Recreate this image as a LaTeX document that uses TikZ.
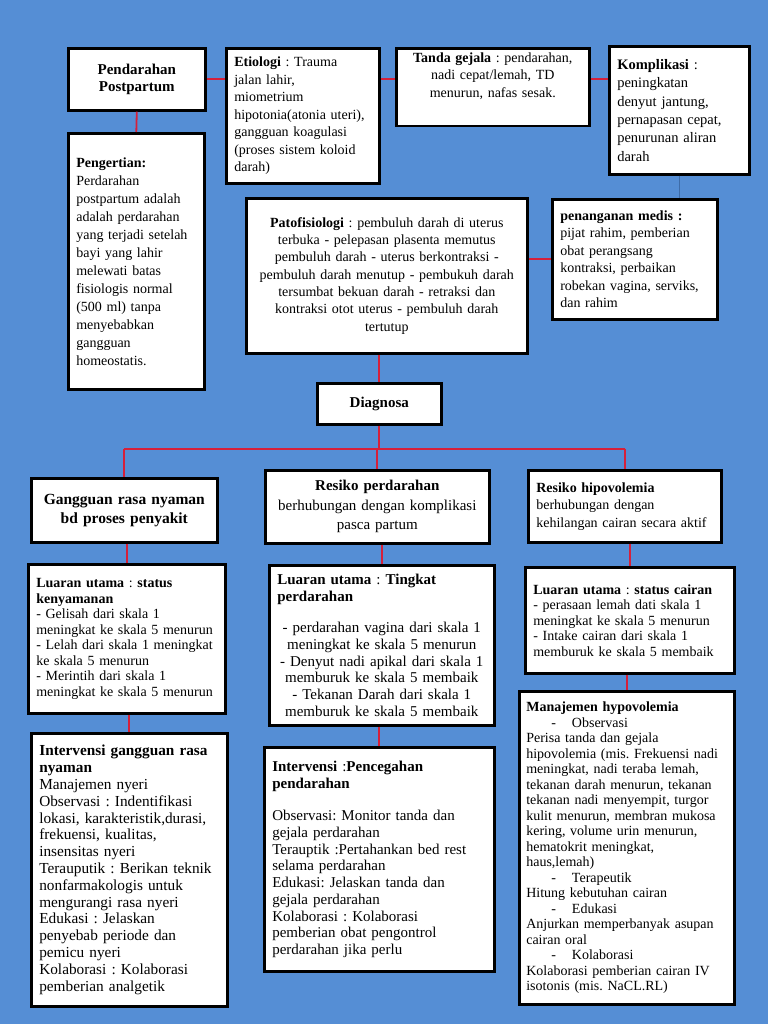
\documentclass[tikz,border=0pt]{standalone}
\usepackage{fontspec}
\setmainfont{Liberation Serif}
\frenchspacing
\definecolor{pagebg}{RGB}{85,142,213}
\definecolor{linkred}{RGB}{214,32,58}
\definecolor{linkblue}{RGB}{62,108,168}

\begin{document}
\begin{tikzpicture}[x=1pt, y=-1pt,
  box/.style={draw, line width=2.6pt, fill=white, anchor=north west,
    inner xsep=8pt, inner ysep=4pt, font=\fontsize{14}{17.5}\selectfont},
  link/.style={draw=linkred, line width=1.8pt}]
% page
\fill[pagebg] (0,0) rectangle (768,1024);
\useasboundingbox (0,0) rectangle (768,1024);

% top row
\node[box, text width=121pt, minimum height=62pt, align=center,
  font=\fontsize{15}{17}\selectfont\bfseries] (pp) at (67,47)
  {Pendarahan\\ Postpartum};
\node[box, text width=137pt, minimum height=135pt, align=left] (etio) at (225,47)
  {\textbf{Etiologi} : Trauma\\ jalan lahir,\\ miometrium\\
   hipotonia(atonia uteri),\\ gangguan koagulasi\\ (proses sistem koloid\\ darah)};
\node[box, text width=177pt, text depth=60pt, align=center] (tanda) at (395,47)
  {\textbf{Tanda gejala} : pendarahan,\\ nadi cepat/lemah, TD\\ menurun, nafas sesak.};
\node[box, text width=124pt, minimum height=128pt, align=left,
  font=\fontsize{14.5}{18.3}\selectfont] (kompl) at (608,45)
  {\textbf{Komplikasi} :\\ peningkatan\\ denyut jantung,\\ pernapasan cepat,\\
   penurunan aliran\\ darah};

\node[box, text width=120pt, minimum height=256pt, align=left,
  font=\fontsize{14}{18}\selectfont] (peng) at (67,132)
  {\textbf{Pengertian:}\\ Perdarahan\\ postpartum adalah\\ adalah perdarahan\\
   yang terjadi setelah\\ bayi yang lahir\\ melewati batas\\ fisiologis normal\\
   (500 ml) tanpa\\ menyebabkan\\ gangguan\\ homeostatis.};
\node[box, text width=265pt, minimum height=155pt, align=center,
  font=\fontsize{14}{17.3}\selectfont] (pato) at (245,197)
  {\textbf{Patofisiologi} : pembuluh darah di uterus\\
   terbuka - pelepasan plasenta memutus\\
   pembuluh darah - uterus berkontraksi -\\
   pembuluh darah menutup - pembukuh darah\\
   tersumbat bekuan darah - retraksi dan\\
   kontraksi otot uterus - pembuluh darah\\ tertutup};
\node[box, text width=149pt, minimum height=120pt, align=left] (pena) at (551,198)
  {\textbf{penanganan medis :}\\ pijat rahim, pemberian\\ obat perangsang\\
   kontraksi, perbaikan\\ robekan vagina, serviks,\\ dan rahim};
\node[box, text width=108pt, minimum height=41pt, align=center,
  font=\fontsize{15}{17}\selectfont\bfseries] (diag) at (316,382) {Diagnosa};

% diagnosa row
\node[box, text width=170pt, minimum height=64pt, align=center,
  font=\fontsize{15.5}{19}\selectfont\bfseries] (gg) at (30,477)
  {Gangguan rasa nyaman\\ bd proses penyakit};
\node[box, text width=208pt, minimum height=73pt, align=center,
  font=\fontsize{15}{19.5}\selectfont] (rp) at (264,469)
  {\textbf{Resiko perdarahan}\\ berhubungan dengan komplikasi\\ pasca partum};
\node[box, text width=177pt, minimum height=72pt, align=left] (rh) at (527,469)
  {\textbf{Resiko hipovolemia}\\ berhubungan dengan\\ kehilangan cairan secara aktif};

% luaran row
\node[box, text width=181pt, minimum height=149pt, align=left,
  font=\fontsize{14}{15.5}\selectfont] (l1) at (27,563)
  {\textbf{Luaran utama} : \textbf{status}\\ \textbf{kenyamanan}\\
   - Gelisah dari skala 1\\ meningkat ke skala 5 menurun\\
   - Lelah dari skala 1 meningkat\\ ke skala 5 menurun\\
   - Merintih dari skala 1\\ meningkat ke skala 5 menurun};
\node[box, text width=209pt, minimum height=160pt, align=center,
  font=\fontsize{15}{16.7}\selectfont] (l2) at (268,564)
  {\makebox[\linewidth][l]{\textbf{Luaran utama} : \textbf{Tingkat}}\\
   \makebox[\linewidth][l]{\textbf{perdarahan}}\\[15pt]
   - perdarahan vagina dari skala 1\\ meningkat ke skala 5 menurun\\
   - Denyut nadi apikal dari skala 1\\ memburuk ke skala 5 membaik\\
   - Tekanan Darah dari skala 1\\ memburuk ke skala 5 membaik};
\node[box, text width=193pt, minimum height=106pt, align=left,
  font=\fontsize{14}{15.5}\selectfont] (l3) at (524,566)
  {\textbf{Luaran utama} : \textbf{status cairan}\\
   - perasaan lemah dati skala 1\\ meningkat ke skala 5 menurun\\
   - Intake cairan dari skala 1\\ memburuk ke skala 5 membaik};

% intervensi row
\node[box, text width=180pt, minimum height=273pt, align=left,
  font=\fontsize{15.3}{16.8}\selectfont] (i1) at (30,732)
  {\textbf{Intervensi gangguan rasa}\\ \textbf{nyaman}\\ Manajemen nyeri\\
   Observasi : Indentifikasi\\ lokasi, karakteristik,durasi,\\ frekuensi, kualitas,\\
   insensitas nyeri\\ Terauputik : Berikan teknik\\ nonfarmakologis untuk\\
   mengurangi rasa nyeri\\ Edukasi : Jelaskan\\ penyebab periode dan\\
   pemicu nyeri\\ Kolaborasi : Kolaborasi\\ pemberian analgetik};
\node[box, text width=214pt, minimum height=224pt, align=left,
  font=\fontsize{15}{16.7}\selectfont] (i2) at (263,746)
  {\textbf{Intervensi} :\textbf{Pencegahan}\\ \textbf{pendarahan}\\[16pt]
   Observasi: Monitor tanda dan\\ gejala perdarahan\\
   Terauptik :Pertahankan bed rest\\ selama perdarahan\\
   Edukasi: Jelaskan tanda dan\\ gejala perdarahan\\
   Kolaborasi : Kolaborasi\\ pemberian obat pengontrol\\ perdarahan jika perlu};
\node[box, text width=201pt, inner xsep=7pt, minimum height=313pt, align=left,
  font=\fontsize{14}{15.5}\selectfont] (man) at (518,690)
  {\textbf{Manajemen hypovolemia}\\
   \hspace*{25pt}-\hspace{16pt}Observasi\\
   Perisa tanda dan gejala\\ hipovolemia (mis. Frekuensi nadi\\
   meningkat, nadi teraba lemah,\\ tekanan darah menurun, tekanan\\
   tekanan nadi menyempit, turgor\\ kulit menurun, membran mukosa\\
   kering, volume urin menurun,\\ hematokrit meningkat,\\ haus,lemah)\\
   \hspace*{25pt}-\hspace{16pt}Terapeutik\\
   Hitung kebutuhan cairan\\
   \hspace*{25pt}-\hspace{16pt}Edukasi\\
   Anjurkan memperbanyak asupan\\ cairan oral\\
   \hspace*{25pt}-\hspace{16pt}Kolaborasi\\
   Kolaborasi pemberian cairan IV\\ isotonis (mis. NaCL.RL)};

% connectors
\draw[link] (pp.east) -- (etio.west |- pp.east);
\draw[link] (etio.east |- pp.east) -- (tanda.west |- pp.east);
\draw[link] (tanda.east |- pp.east) -- (kompl.west |- pp.east);
\draw[link] (pp.south) -- (peng.north);
\draw[linkblue, line width=1.2pt] (kompl.south) -- (kompl.south |- pena.north);
\draw[link] (pato.east |- pena.west) -- (pena.west);
\draw[link] (diag.north |- pato.south) -- (diag.north);
\coordinate (split) at ([yshift=-23pt]diag.south);
\draw[link] (diag.south) -- (split);
\draw[link] (gg.north |- split) -- (rh.north |- split);
\draw[link] (gg.north |- split) -- (gg.north);
\draw[link] (rp.north |- split) -- (rp.north);
\draw[link] (rh.north |- split) -- (rh.north);
\draw[link] (l1.north |- gg.south) -- (l1.north);
\draw[link] (l2.north |- rp.south) -- (l2.north);
\draw[link] (l3.north |- rh.south) -- (l3.north);
\draw[link] (l1.south -| i1.north) -- (i1.north);
\draw[link] (l2.south -| i2.north) -- (i2.north);
\draw[link] (l3.south -| man.north) -- (man.north);
\end{tikzpicture}
\end{document}
